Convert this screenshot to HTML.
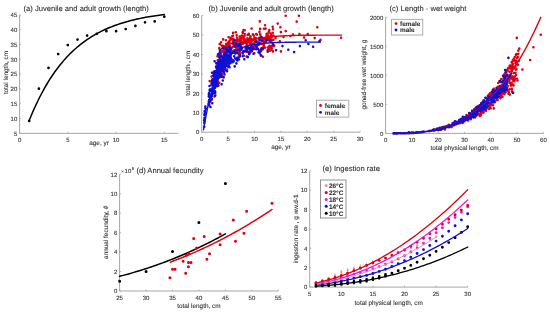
<!DOCTYPE html>
<html><head><meta charset="utf-8"><style>
html,body{margin:0;padding:0;background:#fff;width:550px;height:312px;overflow:hidden}
svg{display:block;will-change:transform}
text{font-family:"Liberation Sans",sans-serif;fill:#333333;stroke:#333333;stroke-width:0.1px;text-rendering:geometricPrecision}
</style></head><body>
<svg width="550" height="312" viewBox="0 0 550 312">
<rect width="550" height="312" fill="#fff"/>
<path d="M19.6 14.9V133.3H178.4" stroke="#a6a6a6" stroke-width="1" fill="none"/>
<path d="M19.6 133.3v-1.5M67.8 133.3v-1.5M116.1 133.3v-1.5M164.3 133.3v-1.5M19.6 133.3h1.5M19.6 118.5h1.5M19.6 103.7h1.5M19.6 88.9h1.5M19.6 74.1h1.5M19.6 59.3h1.5M19.6 44.5h1.5M19.6 29.7h1.5M19.6 14.9h1.5" stroke="#a6a6a6" stroke-width="0.8" fill="none"/>
<text x="19.6" y="141.9" font-size="6.0" text-anchor="middle">0</text>
<text x="67.8" y="141.9" font-size="6.0" text-anchor="middle">5</text>
<text x="116.1" y="141.9" font-size="6.0" text-anchor="middle">10</text>
<text x="164.3" y="141.9" font-size="6.0" text-anchor="middle">15</text>
<text x="17.3" y="135.5" font-size="6.0" text-anchor="end">5</text>
<text x="17.3" y="120.7" font-size="6.0" text-anchor="end">10</text>
<text x="17.3" y="105.9" font-size="6.0" text-anchor="end">15</text>
<text x="17.3" y="91.1" font-size="6.0" text-anchor="end">20</text>
<text x="17.3" y="76.3" font-size="6.0" text-anchor="end">25</text>
<text x="17.3" y="61.5" font-size="6.0" text-anchor="end">30</text>
<text x="17.3" y="46.7" font-size="6.0" text-anchor="end">35</text>
<text x="17.3" y="31.9" font-size="6.0" text-anchor="end">40</text>
<text x="17.3" y="17.1" font-size="6.0" text-anchor="end">45</text>
<text x="99" y="144.8" font-size="6.4" text-anchor="middle">age, yr</text>
<text transform="translate(7.8 72.7) rotate(-90)" x="0" y="0" font-size="6.4" text-anchor="middle">total length, cm</text>
<text x="23.5" y="10.5" font-size="7.6">(a) Juvenile and adult growth (length)</text>
<polyline points="29.25,120.34 30.96,116.17 32.67,112.15 34.38,108.29 36.09,104.57 37.80,100.99 39.51,97.54 41.22,94.23 42.93,91.03 44.63,87.96 46.34,85.00 48.05,82.16 49.76,79.42 51.47,76.78 53.18,74.24 54.89,71.80 56.60,69.45 58.31,67.18 60.02,65.01 61.73,62.91 63.44,60.89 65.15,58.95 66.86,57.08 68.57,55.28 70.28,53.55 71.99,51.88 73.70,50.28 75.41,48.73 77.12,47.25 78.83,45.82 80.54,44.44 82.25,43.11 83.96,41.84 85.67,40.61 87.38,39.43 89.09,38.29 90.80,37.20 92.51,36.14 94.22,35.13 95.93,34.15 97.64,33.21 99.35,32.31 101.06,31.44 102.77,30.60 104.47,29.79 106.18,29.02 107.89,28.27 109.60,27.55 111.31,26.86 113.02,26.19 114.73,25.55 116.44,24.93 118.15,24.34 119.86,23.77 121.57,23.22 123.28,22.69 124.99,22.18 126.70,21.69 128.41,21.21 130.12,20.76 131.83,20.32 133.54,19.90 135.25,19.50 136.96,19.10 138.67,18.73 140.38,18.37 142.09,18.02 143.80,17.69 145.51,17.36 147.22,17.05 148.93,16.75 150.64,16.47 152.35,16.19 154.06,15.92 155.77,15.67 157.48,15.42 159.19,15.18 160.90,14.96 162.60,14.74 164.31,14.52" stroke="#000" stroke-width="1.5" fill="none" stroke-linejoin="round" stroke-linecap="round"/>
<path d="M29.2 121.0h0M38.9 88.7h0M48.5 67.9h0M58.2 54.1h0M67.8 45.1h0M77.5 39.6h0M87.1 35.6h0M96.8 33.8h0M106.4 31.2h0M116.1 31.2h0M125.7 29.1h0M135.4 25.9h0M145.0 22.3h0M154.7 21.4h0M164.3 16.7h0" stroke="#000" stroke-width="2.7" stroke-linecap="round" fill="none"/>
<path d="M201.7 15.6V132.2H360.1" stroke="#a6a6a6" stroke-width="1" fill="none"/>
<path d="M201.7 132.2v-1.5M228.1 132.2v-1.5M254.5 132.2v-1.5M280.9 132.2v-1.5M307.3 132.2v-1.5M333.7 132.2v-1.5M360.1 132.2v-1.5M201.7 132.2h1.5M201.7 112.8h1.5M201.7 93.3h1.5M201.7 73.9h1.5M201.7 54.5h1.5M201.7 35h1.5M201.7 15.6h1.5" stroke="#a6a6a6" stroke-width="0.8" fill="none"/>
<text x="201.7" y="140.8" font-size="6.0" text-anchor="middle">0</text>
<text x="228.1" y="140.8" font-size="6.0" text-anchor="middle">5</text>
<text x="254.5" y="140.8" font-size="6.0" text-anchor="middle">10</text>
<text x="280.9" y="140.8" font-size="6.0" text-anchor="middle">15</text>
<text x="307.3" y="140.8" font-size="6.0" text-anchor="middle">20</text>
<text x="333.7" y="140.8" font-size="6.0" text-anchor="middle">25</text>
<text x="360.1" y="140.8" font-size="6.0" text-anchor="middle">30</text>
<text x="199.4" y="134.4" font-size="6.0" text-anchor="end">0</text>
<text x="199.4" y="115" font-size="6.0" text-anchor="end">10</text>
<text x="199.4" y="95.5" font-size="6.0" text-anchor="end">20</text>
<text x="199.4" y="76.1" font-size="6.0" text-anchor="end">30</text>
<text x="199.4" y="56.7" font-size="6.0" text-anchor="end">40</text>
<text x="199.4" y="37.2" font-size="6.0" text-anchor="end">50</text>
<text x="199.4" y="17.8" font-size="6.0" text-anchor="end">60</text>
<text x="280.9" y="148.9" font-size="6.4" text-anchor="middle">age, yr</text>
<text transform="translate(190.1 73.2) rotate(-90)" x="0" y="0" font-size="6.4" text-anchor="middle">total length , cm</text>
<text x="208.4" y="10.6" font-size="7.6">(b) Juvenile and adult growth (length)</text>
<path d="M215.2 76.6h0M217.7 60.4h0M216.6 67.7h0M211.6 76.6h0M212.3 83.7h0M217.5 56.2h0M209.7 81.1h0M217.0 63.1h0M216.8 65.6h0M213.8 71.5h0M235.6 43.8h0M234.2 50.2h0M232.9 42.0h0M243.5 30.1h0M246.8 43.3h0M249.6 42.5h0M274.3 45.7h0M263.0 38.1h0M253.4 48.4h0M273.9 46.1h0M230.6 37.9h0M227.6 52.2h0M252.9 34.4h0M221.1 42.3h0M220.6 50.3h0M247.4 38.3h0M244.7 30.3h0M269.9 40.8h0M253.8 44.4h0M247.4 49.8h0M246.4 41.5h0M232.4 36.0h0M219.3 48.0h0M229.4 51.7h0M257.3 45.7h0M229.8 48.9h0M239.3 41.1h0M218.8 56.5h0M265.1 38.6h0M227.2 45.1h0M233.6 46.3h0M267.9 40.0h0M247.1 40.4h0M266.0 40.3h0M254.4 37.8h0M260.1 28.9h0M223.7 46.0h0M248.9 41.1h0M247.0 51.9h0M267.4 37.4h0M238.8 54.7h0M252.1 49.5h0M221.9 45.7h0M240.3 38.5h0M236.7 44.2h0M227.0 57.4h0M264.3 42.2h0M239.8 46.9h0M273.4 35.6h0M251.6 28.5h0M252.5 39.7h0M254.3 45.5h0M256.5 47.6h0M227.0 47.4h0M243.2 43.3h0M232.0 52.0h0M241.1 41.9h0M224.0 56.3h0M272.8 32.8h0M230.6 39.2h0M256.2 34.1h0M235.4 46.7h0M267.5 36.7h0M255.7 41.5h0M226.0 50.2h0M265.9 41.9h0M271.5 47.4h0M269.2 48.4h0M250.5 36.4h0M226.7 48.5h0M229.4 44.7h0M270.5 33.6h0M249.5 51.8h0M228.7 51.0h0M268.1 38.7h0M254.5 38.4h0M250.5 43.5h0M239.7 36.6h0M241.6 41.2h0M232.0 52.4h0M220.7 57.3h0M267.6 34.9h0M244.8 39.2h0M249.2 52.8h0M236.6 35.2h0M260.6 36.6h0M220.0 44.2h0M239.4 45.2h0M220.3 53.8h0M225.5 55.0h0M272.7 26.8h0M255.4 41.8h0M242.6 32.8h0M247.9 45.5h0M267.4 38.8h0M237.9 53.1h0M251.6 43.4h0M256.9 34.6h0M238.5 50.5h0M247.6 35.1h0M261.4 38.1h0M269.5 45.9h0M227.1 50.1h0M270.8 42.3h0M218.9 55.3h0M260.7 43.4h0M264.0 44.9h0M226.3 49.5h0M242.0 48.6h0M264.2 47.7h0M219.4 53.7h0M253.8 35.5h0M263.0 49.2h0M247.3 41.6h0M259.2 44.2h0M231.3 51.2h0M229.7 40.8h0M238.9 46.0h0M228.6 37.3h0M238.0 47.8h0M271.7 37.2h0M250.7 42.6h0M237.6 47.7h0M233.8 40.9h0M271.9 40.4h0M243.5 38.6h0M273.5 39.7h0M247.4 48.2h0M247.8 42.2h0M268.8 39.4h0M260.2 34.4h0M251.1 46.6h0M242.5 42.6h0M267.7 50.1h0M241.6 38.6h0M270.2 46.1h0M222.4 61.4h0M242.7 42.7h0M247.7 34.9h0M271.8 48.7h0M232.6 51.4h0M263.7 44.4h0M256.5 47.4h0M258.7 38.1h0M253.8 45.7h0M273.0 43.8h0M237.2 39.7h0M240.9 47.2h0M230.0 43.2h0M221.4 57.1h0M230.5 52.9h0M269.8 50.7h0M265.6 28.6h0M224.9 50.6h0M252.4 39.5h0M245.4 42.1h0M251.9 40.1h0M255.5 40.4h0M235.8 32.2h0M272.4 45.7h0M244.7 51.4h0M253.7 47.0h0M254.1 48.9h0M228.9 41.7h0M222.1 45.8h0M241.6 48.3h0M261.4 48.5h0M264.2 42.1h0M259.5 31.9h0M224.9 64.2h0M269.7 36.5h0M263.5 46.5h0M267.7 33.5h0M247.9 48.1h0M269.8 41.3h0M221.2 60.5h0M220.3 57.9h0M219.7 44.1h0M232.7 39.8h0M232.5 47.3h0M229.1 51.4h0M250.3 52.6h0M220.8 54.1h0M251.6 41.3h0M227.9 47.1h0M256.5 41.1h0M219.8 59.2h0M236.0 44.0h0M271.1 39.8h0M248.7 33.7h0M264.0 28.7h0M255.4 41.5h0M252.8 45.6h0M229.3 46.4h0M250.7 44.8h0M220.8 56.1h0M263.5 40.3h0M272.3 45.8h0M266.4 36.2h0M221.4 51.8h0M237.6 41.6h0M236.4 44.5h0M224.9 53.0h0M253.7 46.6h0M263.2 41.4h0M236.2 46.8h0M266.9 38.4h0M263.2 40.0h0M225.8 56.2h0M261.5 39.7h0M268.0 47.8h0M229.6 49.6h0M250.7 43.0h0M254.3 53.3h0M252.7 40.4h0M224.0 48.4h0M255.6 41.6h0M254.0 43.4h0M264.7 42.2h0M263.6 45.8h0M236.9 44.9h0M259.0 43.7h0M267.1 39.2h0M268.6 46.9h0M227.6 45.3h0M220.1 51.3h0M255.0 41.6h0M230.6 48.2h0M250.1 37.9h0M271.5 49.6h0M239.8 40.0h0M232.7 43.3h0M244.1 40.4h0M255.4 38.4h0M224.3 53.1h0M239.9 44.3h0M226.1 44.0h0M255.7 38.1h0M265.1 38.6h0M239.7 51.9h0M239.4 39.6h0M248.8 34.4h0M230.6 39.5h0M232.4 43.5h0M237.1 52.6h0M244.2 36.4h0M223.2 50.8h0M260.7 55.4h0M251.0 38.9h0M235.4 52.8h0M222.9 57.9h0M261.3 43.9h0M225.9 40.2h0M226.1 50.0h0M225.9 46.3h0M223.1 39.4h0M269.3 30.0h0M233.7 45.1h0M235.7 45.1h0M265.2 47.5h0M239.2 47.1h0M227.8 44.1h0M234.3 41.8h0M246.2 41.2h0M232.7 38.8h0M241.6 47.2h0M225.4 48.6h0M242.0 38.0h0M243.3 38.7h0M244.6 35.6h0M240.6 40.3h0M232.6 46.7h0M224.5 46.8h0M236.5 49.4h0M242.8 52.2h0M227.9 43.1h0M229.8 46.2h0M237.0 41.4h0M242.6 52.6h0M246.5 44.0h0M226.1 51.4h0M227.7 51.9h0M243.9 55.8h0M239.8 44.8h0M241.9 37.1h0M249.1 39.1h0M247.6 45.2h0M245.1 42.1h0M243.3 37.7h0M233.2 60.2h0M239.7 43.5h0M227.7 43.4h0M242.9 38.2h0M242.8 32.1h0M241.9 35.6h0M234.6 42.2h0M232.8 42.9h0M233.9 39.6h0M223.7 52.8h0M245.1 42.2h0M237.1 37.7h0M233.1 32.9h0M237.3 44.1h0M241.9 42.8h0M232.9 43.5h0M244.7 34.0h0M247.1 41.9h0M233.0 35.8h0M226.5 53.3h0M242.9 43.4h0M285.7 15.8h0M298.9 15.8h0M296.7 21.6h0M277.7 23.6h0M280.4 27.3h0M317.3 27.3h0M280.9 32.1h0M285.7 31.1h0M293.0 34.5h0M299.4 34.1h0M307.8 34.1h0M314.7 38.1h0M304.1 37.6h0M283.5 37.0h0M279.8 41.3h0M273.0 51.4h0M280.9 51.4h0M262.9 56.8h0M268.8 31.7h0M266.6 34.1h0M269.8 38.9h0M341.1 37.8h0M271.4 35.0h0M275.6 37.9h0M290.4 36.0h0M320.5 39.9h0M265.1 25.3h0M259.8 21.4h0M273.0 29.2h0M213.4 91.0h0M211.9 99.5h0M221.2 75.3h0M217.9 79.1h0M210.3 101.8h0M222.2 73.7h0M214.5 96.5h0M223.3 76.8h0M218.4 85.7h0M219.2 82.9h0M217.9 81.3h0M221.6 76.1h0M226.9 69.5h0M223.6 71.9h0" stroke="#de0010" stroke-width="2.6" stroke-linecap="round" fill="none"/>
<polyline points="209.62,103.56 211.29,96.93 212.96,90.93 214.63,85.52 216.30,80.63 217.97,76.22 219.65,72.23 221.32,68.63 222.99,65.38 224.66,62.45 226.33,59.79 228.00,57.40 229.67,55.24 231.34,53.28 233.01,51.52 234.68,49.92 236.35,48.49 238.03,47.19 239.70,46.01 241.37,44.95 243.04,44.00 244.71,43.13 246.38,42.35 248.05,41.65 249.72,41.01 251.39,40.43 253.06,39.91 254.73,39.44 256.40,39.02 258.08,38.64 259.75,38.29 261.42,37.98 263.09,37.70 264.76,37.44 266.43,37.21 268.10,37.01 269.77,36.82 271.44,36.65 273.11,36.50 274.78,36.36 276.46,36.23 278.13,36.12 279.80,36.02 281.47,35.93 283.14,35.85 284.81,35.77 286.48,35.70 288.15,35.64 289.82,35.59 291.49,35.54 293.16,35.49 294.84,35.45 296.51,35.41 298.18,35.38 299.85,35.35 301.52,35.32 303.19,35.30 304.86,35.28 306.53,35.26 308.20,35.24 309.87,35.22 311.54,35.21 313.21,35.20 314.89,35.18 316.56,35.17 318.23,35.16 319.90,35.15 321.57,35.15 323.24,35.14 324.91,35.13 326.58,35.13 328.25,35.12 329.92,35.12 331.59,35.11 333.27,35.11 334.94,35.11 336.61,35.10 338.28,35.10 339.95,35.10 341.62,35.09" stroke="#de0010" stroke-width="1.4" fill="none" stroke-linejoin="round" stroke-linecap="round"/>
<path d="M204.1 120.5h0M205.9 108.8h0M205.4 106.6h0M204.5 117.9h0M205.4 112.9h0M204.6 121.3h0M204.9 113.8h0M205.7 113.2h0M204.9 113.1h0M204.6 117.9h0M204.6 111.3h0M204.2 126.7h0M204.5 119.5h0M204.6 114.7h0M209.2 99.9h0M208.8 103.7h0M210.3 95.8h0M209.4 105.3h0M211.3 90.1h0M212.0 72.8h0M209.6 90.0h0M210.7 99.7h0M210.4 99.0h0M208.8 101.4h0M209.0 93.0h0M211.8 94.2h0M210.3 98.3h0M211.5 84.4h0M208.8 94.6h0M210.8 94.9h0M211.8 96.3h0M211.8 99.0h0M208.6 103.8h0M210.5 107.0h0M209.9 91.0h0M211.4 94.5h0M208.8 96.6h0M209.5 86.0h0M211.6 82.5h0M210.3 101.1h0M210.2 89.2h0M212.1 80.4h0M209.7 100.5h0M208.7 104.8h0M219.5 70.6h0M215.1 91.2h0M213.8 73.3h0M222.8 80.5h0M229.9 63.2h0M223.0 66.0h0M224.2 63.7h0M218.2 70.5h0M222.8 62.7h0M226.2 61.1h0M223.1 56.6h0M227.1 71.3h0M222.4 65.1h0M215.9 82.7h0M223.0 63.3h0M221.3 65.3h0M215.3 85.6h0M223.7 67.2h0M227.4 54.6h0M214.8 78.1h0M222.3 69.9h0M225.8 47.9h0M219.7 52.6h0M217.3 85.0h0M219.1 68.1h0M222.3 48.5h0M224.9 56.3h0M222.6 63.4h0M214.2 83.5h0M227.4 62.1h0M229.3 58.9h0M214.1 86.2h0M216.9 69.1h0M215.5 81.5h0M228.0 61.1h0M229.1 64.3h0M213.1 85.6h0M218.4 78.3h0M215.8 79.0h0M220.9 60.2h0M229.3 55.8h0M213.6 80.5h0M215.4 76.2h0M221.3 66.6h0M221.9 66.8h0M226.0 61.7h0M220.3 63.0h0M214.9 88.0h0M218.8 60.9h0M230.4 56.8h0M226.1 64.2h0M214.4 85.0h0M227.2 63.0h0M218.0 71.0h0M226.7 63.6h0M212.5 79.4h0M228.4 62.6h0M215.3 95.6h0M220.7 73.1h0M224.5 74.4h0M221.6 66.7h0M215.3 71.4h0M214.8 75.8h0M217.5 83.4h0M213.2 89.9h0M216.3 63.2h0M214.7 78.6h0M220.8 67.6h0M218.8 62.9h0M223.1 48.0h0M217.5 63.1h0M212.9 84.8h0M218.4 68.9h0M226.2 56.2h0M217.0 79.1h0M219.7 77.1h0M226.2 59.5h0M219.8 76.3h0M228.7 58.5h0M229.2 57.3h0M218.0 54.2h0M225.9 65.1h0M216.9 75.5h0M214.8 81.6h0M220.4 65.3h0M223.4 56.8h0M229.5 60.2h0M215.0 85.9h0M225.4 70.3h0M221.0 73.8h0M214.7 77.0h0M230.2 56.9h0M225.1 67.0h0M214.6 83.6h0M229.0 57.8h0M214.2 78.7h0M214.0 86.9h0M218.4 73.5h0M229.6 67.2h0M212.9 93.4h0M229.2 49.2h0M223.6 77.4h0M213.5 86.4h0M222.8 63.1h0M220.7 70.5h0M222.7 70.1h0M225.9 60.4h0M224.8 61.4h0M230.7 57.3h0M215.2 93.0h0M227.3 59.9h0M219.9 75.4h0M226.7 62.6h0M228.7 56.9h0M230.6 53.5h0M217.2 67.0h0M220.6 71.5h0M229.7 52.6h0M229.7 51.2h0M219.2 61.9h0M229.6 50.2h0M219.8 70.4h0M219.2 71.6h0M226.2 55.0h0M221.0 77.0h0M220.5 66.7h0M219.4 73.9h0M220.3 71.2h0M214.8 92.8h0M213.4 90.4h0M226.2 59.9h0M222.7 58.8h0M224.7 55.4h0M227.1 59.7h0M216.5 77.2h0M216.6 81.8h0M217.4 70.2h0M217.9 74.3h0M226.3 56.2h0M219.2 57.3h0M218.2 72.1h0M224.0 72.1h0M215.7 84.3h0M214.2 92.2h0M225.1 68.1h0M226.2 52.1h0M217.7 70.9h0M224.0 72.2h0M212.9 81.4h0M219.7 60.2h0M222.9 66.7h0M216.9 79.7h0M218.7 73.6h0M223.5 61.5h0M223.2 59.8h0M215.1 71.2h0M225.3 53.2h0M213.7 75.3h0M230.2 50.0h0M216.0 72.3h0M216.9 86.2h0M216.0 78.3h0M230.6 55.3h0M217.6 75.9h0M223.4 57.6h0M230.6 58.8h0M229.8 62.3h0M213.0 75.7h0M221.9 61.5h0M223.4 62.2h0M225.2 55.0h0M218.5 63.4h0M218.3 69.1h0M212.3 103.3h0M212.9 90.2h0M222.4 68.2h0M213.7 90.3h0M216.0 75.7h0M218.4 62.5h0M213.6 87.2h0M212.8 93.4h0M229.4 46.9h0M220.3 71.8h0M216.0 86.2h0M225.4 59.0h0M212.4 84.2h0M216.8 80.4h0M230.0 53.1h0M228.8 60.7h0M224.0 68.5h0M214.0 81.5h0M218.1 66.1h0M212.8 90.3h0M216.3 73.9h0M212.7 86.8h0M214.6 61.2h0M224.0 67.2h0M214.1 72.8h0M215.1 79.9h0M228.9 58.7h0M218.5 66.0h0M218.4 64.8h0M213.9 74.4h0M227.0 57.4h0M224.8 65.1h0M222.4 68.8h0M223.7 59.9h0M214.1 78.4h0M217.1 63.5h0M223.0 61.4h0M229.9 51.8h0M227.4 50.5h0M224.1 61.4h0M221.8 76.2h0M212.5 94.5h0M228.7 65.9h0M213.5 73.3h0M214.6 86.9h0M225.1 53.4h0M227.3 55.8h0M226.8 49.6h0M220.6 60.9h0M215.5 79.2h0M212.9 87.0h0M228.0 58.2h0M230.3 56.2h0M216.8 79.1h0M228.3 58.6h0M219.7 57.7h0M218.0 85.2h0M221.6 64.7h0M212.4 93.0h0M220.4 67.0h0M215.9 71.1h0M225.4 60.7h0M221.5 61.2h0M228.3 67.0h0M228.8 52.1h0M218.1 76.6h0M217.4 68.4h0M229.6 56.6h0M221.6 84.3h0M214.0 87.8h0M213.1 83.7h0M230.6 48.8h0M223.0 62.4h0M213.3 83.0h0M221.7 76.0h0M221.6 56.6h0M220.3 55.6h0M229.8 57.2h0M229.8 58.6h0M214.6 92.5h0M215.1 73.4h0M219.8 49.7h0M227.7 54.9h0M223.8 54.9h0M225.7 56.9h0M222.9 70.9h0M216.1 66.9h0M227.4 65.9h0M212.5 88.2h0M225.2 59.1h0M215.9 71.1h0M221.0 64.5h0M230.3 55.1h0M222.2 70.6h0M213.3 93.3h0M220.2 68.3h0M224.5 66.3h0M232.5 62.2h0M238.7 57.3h0M231.3 58.9h0M247.8 57.1h0M242.8 56.3h0M246.7 56.5h0M240.1 50.4h0M251.5 47.2h0M236.2 43.6h0M259.5 53.2h0M261.2 49.9h0M246.4 46.2h0M245.5 51.0h0M258.0 48.8h0M239.9 43.7h0M256.2 49.2h0M239.8 56.4h0M253.5 53.7h0M241.3 49.6h0M249.8 48.0h0M260.1 52.6h0M232.5 60.7h0M256.3 45.8h0M247.9 47.3h0M242.7 53.4h0M241.8 48.2h0M232.9 52.5h0M238.9 59.5h0M250.5 50.3h0M233.8 52.7h0M251.9 51.1h0M261.2 55.5h0M261.8 48.3h0M258.9 44.5h0M256.3 41.7h0M236.4 63.4h0M261.5 37.0h0M237.2 57.8h0M258.3 43.7h0M258.6 42.6h0M250.4 45.2h0M247.3 49.2h0M237.1 58.0h0M247.2 47.2h0M239.9 54.4h0M234.7 66.4h0M234.8 40.3h0M256.1 45.1h0M260.0 40.3h0M235.2 58.2h0M231.2 48.9h0M239.1 44.3h0M235.0 46.4h0M236.7 52.9h0M249.2 54.2h0M244.1 51.1h0M244.3 59.3h0M237.3 60.4h0M251.8 48.4h0M239.9 55.7h0M243.4 51.2h0M245.4 50.6h0M259.4 39.9h0M238.5 45.7h0M253.5 48.6h0M240.5 45.9h0M259.1 50.4h0M243.2 52.0h0M246.7 46.2h0M258.5 52.3h0M252.1 49.9h0M233.7 61.4h0M235.1 53.4h0M262.1 40.8h0M231.7 60.1h0M240.3 50.2h0M261.1 50.7h0M231.2 62.4h0M235.9 59.3h0M237.5 45.6h0M233.5 43.2h0M245.7 48.1h0M249.5 52.2h0M240.8 48.0h0M234.2 56.2h0M256.4 44.7h0M256.2 46.7h0M248.5 48.4h0M235.1 51.0h0M247.9 52.0h0M204.3 122.9h0M204.6 120.5h0M204.9 117.6h0M204.3 114.7h0M205.1 110.8h0M205.4 107.9h0M282.5 46.1h0M288.3 49.8h0M294.1 52.1h0M299.9 46.1h0M305.7 40.3h0M308.4 44.0h0M313.1 46.7h0M276.1 50.2h0M267.7 51.7h0M266.6 40.3h0M269.8 40.3h0M319.4 41.3h0M273.0 44.8h0M262.4 48.6h0" stroke="#1010d2" stroke-width="2.6" stroke-linecap="round" fill="none"/>
<polyline points="203.55,129.72 204.73,122.69 205.91,116.22 207.09,110.27 208.27,104.80 209.45,99.77 210.64,95.14 211.82,90.88 213.00,86.97 214.18,83.37 215.36,80.05 216.54,77.01 217.72,74.20 218.91,71.62 220.09,69.25 221.27,67.07 222.45,65.06 223.63,63.22 224.81,61.52 225.99,59.96 227.17,58.52 228.36,57.20 229.54,55.99 230.72,54.87 231.90,53.84 233.08,52.90 234.26,52.03 235.44,51.23 236.63,50.49 237.81,49.81 238.99,49.19 240.17,48.62 241.35,48.09 242.53,47.61 243.71,47.16 244.89,46.75 246.08,46.37 247.26,46.03 248.44,45.71 249.62,45.41 250.80,45.14 251.98,44.90 253.16,44.67 254.35,44.46 255.53,44.26 256.71,44.09 257.89,43.92 259.07,43.77 260.25,43.63 261.43,43.51 262.61,43.39 263.80,43.28 264.98,43.18 266.16,43.09 267.34,43.01 268.52,42.93 269.70,42.86 270.88,42.80 272.07,42.74 273.25,42.68 274.43,42.63 275.61,42.58 276.79,42.54 277.97,42.50 279.15,42.47 280.33,42.43 281.52,42.40 282.70,42.37 283.88,42.35 285.06,42.32 286.24,42.30 287.42,42.28 288.60,42.26 289.79,42.25 290.97,42.23 292.15,42.21 293.33,42.20 294.51,42.19 295.69,42.18 296.87,42.17 298.05,42.16 299.24,42.15 300.42,42.14 301.60,42.13 302.78,42.13 303.96,42.12 305.14,42.11 306.32,42.11 307.51,42.10 308.69,42.10 309.87,42.10 311.05,42.09 312.23,42.09 313.41,42.09 314.59,42.08 315.77,42.08 316.96,42.08 318.14,42.08 319.32,42.07 320.50,42.07" stroke="#1010d2" stroke-width="1.4" fill="none" stroke-linejoin="round" stroke-linecap="round"/>
<rect x="316.4" y="100.2" width="32.4" height="16.9" fill="#fff" stroke="#999" stroke-width="0.8"/>
<circle cx="320.5" cy="105.5" r="1.4" fill="#de0010"/><circle cx="320.5" cy="112.3" r="1.4" fill="#1010d2"/>
<text x="324.8" y="107.7" font-size="6.4" font-weight="bold" fill="#000">female</text>
<text x="324.8" y="114.5" font-size="6.4" font-weight="bold" fill="#000">male</text>
<path d="M385.6 17.3V133.4H543.4" stroke="#a6a6a6" stroke-width="1" fill="none"/>
<path d="M385.6 133.4v-1.5M411.9 133.4v-1.5M438.2 133.4v-1.5M464.5 133.4v-1.5M490.8 133.4v-1.5M517.1 133.4v-1.5M543.4 133.4v-1.5M385.6 133.4h1.5M385.6 104.4h1.5M385.6 75.3h1.5M385.6 46.3h1.5M385.6 17.3h1.5" stroke="#a6a6a6" stroke-width="0.8" fill="none"/>
<text x="385.6" y="142" font-size="6.0" text-anchor="middle">0</text>
<text x="411.9" y="142" font-size="6.0" text-anchor="middle">10</text>
<text x="438.2" y="142" font-size="6.0" text-anchor="middle">20</text>
<text x="464.5" y="142" font-size="6.0" text-anchor="middle">30</text>
<text x="490.8" y="142" font-size="6.0" text-anchor="middle">40</text>
<text x="517.1" y="142" font-size="6.0" text-anchor="middle">50</text>
<text x="543.4" y="142" font-size="6.0" text-anchor="middle">60</text>
<text x="383.3" y="135.6" font-size="6.0" text-anchor="end">0</text>
<text x="383.3" y="106.6" font-size="6.0" text-anchor="end">500</text>
<text x="383.3" y="77.5" font-size="6.0" text-anchor="end">1000</text>
<text x="383.3" y="48.5" font-size="6.0" text-anchor="end">1500</text>
<text x="383.3" y="19.5" font-size="6.0" text-anchor="end">2000</text>
<text x="464.5" y="150" font-size="6.4" text-anchor="middle">total physical length, cm</text>
<text transform="translate(366.3 74.6) rotate(-90)" x="0" y="0" font-size="6.4" text-anchor="middle">gonad-free wet weight, g</text>
<text x="389.5" y="10.6" font-size="7.6">(c) Length - wet weight</text>
<path d="M429.1 131.2h0M434.2 129.5h0M431.1 130.8h0M429.4 130.9h0M442.3 127.5h0M434.4 130.0h0M437.0 128.8h0M438.0 129.2h0M470.6 119.0h0M448.6 124.9h0M441.3 128.9h0M456.6 123.7h0M444.9 129.5h0M439.0 128.3h0M474.5 110.2h0M462.9 118.3h0M454.5 122.4h0M443.6 126.8h0M468.2 117.4h0M459.2 120.1h0M445.1 128.2h0M477.0 112.7h0M475.7 108.2h0M474.8 111.6h0M470.8 119.3h0M459.2 121.3h0M450.1 126.1h0M463.9 121.5h0M444.2 127.3h0M462.5 121.3h0M440.8 129.8h0M438.7 129.9h0M466.4 115.1h0M451.7 127.1h0M465.7 118.1h0M469.0 115.0h0M471.2 113.4h0M462.5 122.9h0M471.6 116.1h0M464.2 119.2h0M474.8 110.0h0M473.6 115.9h0M439.9 129.7h0M448.8 125.0h0M453.5 122.7h0M448.1 126.0h0M445.2 128.0h0M472.7 113.1h0M439.2 129.0h0M445.4 126.5h0M468.2 120.4h0M447.0 126.7h0M448.4 126.6h0M476.4 115.6h0M468.3 116.6h0M455.9 123.5h0M443.6 128.3h0M448.8 125.8h0M517.5 80.5h0M508.8 79.3h0M475.6 110.8h0M504.9 81.4h0M489.7 94.2h0M505.5 92.4h0M486.0 110.8h0M478.4 109.4h0M473.3 112.5h0M486.0 98.0h0M512.0 67.8h0M513.4 80.7h0M503.8 78.1h0M506.8 88.4h0M481.3 113.7h0M488.7 95.0h0M513.8 68.2h0M517.8 56.9h0M492.8 94.1h0M508.1 68.5h0M515.4 66.2h0M518.3 50.6h0M486.0 108.8h0M502.5 96.7h0M490.3 93.1h0M493.8 88.9h0M493.6 93.5h0M485.2 103.7h0M473.3 113.5h0M507.7 86.1h0M504.4 74.2h0M511.1 68.8h0M479.4 107.4h0M483.3 104.7h0M499.8 81.6h0M515.5 63.4h0M494.1 91.3h0M481.6 112.4h0M499.8 86.2h0M516.5 54.0h0M512.3 78.9h0M513.8 73.1h0M491.3 93.6h0M484.5 100.5h0M512.5 67.0h0M508.7 92.0h0M511.6 69.7h0M490.4 106.1h0M485.6 108.3h0M483.4 103.7h0M512.5 76.6h0M514.7 61.1h0M489.3 94.3h0M512.6 64.9h0M489.9 96.2h0M493.0 102.5h0M498.5 95.9h0M482.6 111.4h0M484.7 107.7h0M484.7 110.1h0M484.4 108.5h0M496.1 95.5h0M477.0 114.8h0M508.3 91.0h0M480.4 113.9h0M492.8 94.8h0M501.9 87.1h0M478.7 105.7h0M491.2 92.6h0M498.3 94.1h0M497.7 87.5h0M513.5 85.5h0M508.5 67.8h0M478.0 106.0h0M510.7 78.2h0M497.7 99.8h0M503.6 82.3h0M479.8 115.9h0M494.1 100.9h0M504.6 77.6h0M509.1 77.7h0M509.5 82.3h0M482.4 102.6h0M510.7 85.4h0M498.6 89.4h0M503.2 89.9h0M511.6 82.8h0M491.1 96.6h0M514.7 80.1h0M512.9 60.3h0M509.6 83.0h0M489.9 93.7h0M496.7 100.3h0M480.4 106.2h0M507.3 90.4h0M513.4 84.8h0M479.8 108.6h0M506.7 75.3h0M504.3 94.1h0M474.1 109.3h0M514.6 78.5h0M494.4 95.1h0M484.8 103.3h0M473.8 111.6h0M508.4 93.6h0M487.9 95.9h0M496.0 90.4h0M481.4 109.8h0M500.3 96.5h0M490.7 108.2h0M509.5 89.3h0M503.1 81.6h0M505.6 85.8h0M483.9 110.7h0M475.3 114.4h0M512.9 60.4h0M515.5 72.8h0M502.0 91.8h0M514.8 57.0h0M504.9 79.8h0M500.3 89.2h0M491.7 102.2h0M488.8 109.0h0M494.9 102.3h0M482.6 109.1h0M492.1 99.7h0M495.8 92.1h0M473.8 111.7h0M490.5 98.6h0M485.5 103.5h0M501.6 95.1h0M509.8 94.6h0M500.7 92.8h0M502.9 93.3h0M500.6 93.7h0M484.2 107.0h0M489.7 106.9h0M511.2 85.4h0M515.9 69.6h0M480.7 108.1h0M472.9 116.3h0M516.6 61.6h0M512.0 76.5h0M500.4 96.4h0M510.0 76.7h0M499.7 81.1h0M514.0 78.1h0M483.6 100.5h0M492.8 90.1h0M503.3 76.0h0M482.3 110.7h0M505.3 72.9h0M484.5 104.9h0M505.1 85.8h0M509.4 80.1h0M491.9 94.8h0M518.0 64.8h0M501.4 89.4h0M507.2 69.9h0M473.3 116.2h0M477.6 114.6h0M505.1 76.4h0M515.8 60.5h0M501.3 79.1h0M514.4 81.2h0M475.1 108.6h0M513.4 67.0h0M512.8 60.6h0M501.3 96.9h0M492.2 97.0h0M504.8 86.2h0M483.6 112.6h0M503.1 91.5h0M504.3 74.3h0M497.2 96.0h0M484.4 108.8h0M472.5 111.6h0M481.4 103.4h0M510.8 65.6h0M482.2 110.7h0M475.8 112.5h0M483.7 100.9h0M496.3 98.1h0M499.4 95.7h0M512.8 64.1h0M511.7 62.4h0M517.0 78.8h0M513.1 92.7h0M493.1 105.2h0M478.9 113.7h0M516.4 69.4h0M482.9 103.8h0M501.0 89.7h0M484.6 108.5h0M510.0 75.7h0M481.6 111.7h0M491.8 99.0h0M482.5 109.8h0M512.0 62.0h0M500.9 82.1h0M501.4 94.1h0M486.9 108.0h0M480.5 110.5h0M511.8 88.9h0M507.6 86.6h0M506.2 88.2h0M518.3 53.8h0M498.1 94.8h0M480.6 111.8h0M500.4 98.3h0M485.6 109.7h0M496.0 94.7h0M493.5 98.2h0M498.3 83.0h0M514.8 76.6h0M509.7 66.5h0M491.5 97.4h0M510.0 77.2h0M512.0 91.4h0M508.0 90.4h0M497.8 86.8h0M513.8 58.8h0M495.0 94.0h0M477.3 108.2h0M484.9 107.0h0M502.7 89.5h0M489.8 104.1h0M491.9 92.3h0M490.9 97.5h0M481.2 109.2h0M476.7 112.8h0M474.6 111.1h0M503.3 83.1h0M487.3 107.0h0M493.4 89.4h0M515.4 66.4h0M501.2 88.3h0M509.7 65.8h0M507.5 70.5h0M516.3 69.0h0M475.5 110.5h0M490.1 105.9h0M516.1 75.0h0M493.8 108.4h0M516.0 54.8h0M480.9 115.3h0M475.2 110.2h0M513.6 80.1h0M491.3 104.4h0M495.8 95.8h0M518.9 60.7h0M509.5 71.8h0M519.3 48.6h0M511.8 70.9h0M509.8 68.3h0M509.7 83.0h0" stroke="#de0010" stroke-width="2.6" stroke-linecap="round" fill="none"/>
<path d="M403.5 133.3h0M411.7 132.8h0M395.3 133.4h0M400.0 133.3h0M404.8 133.2h0M409.5 133.0h0M408.8 133.0h0M410.7 133.0h0M396.0 133.4h0M397.8 133.4h0M400.8 133.3h0M400.2 133.3h0M411.4 132.9h0M417.0 132.5h0M409.7 133.1h0M394.3 133.4h0M400.5 133.3h0M412.5 132.8h0M415.4 132.7h0M407.6 133.1h0M401.7 133.3h0M401.9 133.3h0M408.5 133.1h0M413.9 132.8h0M401.6 133.3h0M398.0 133.3h0M393.6 133.4h0M396.7 133.4h0M413.6 132.9h0M408.3 133.0h0M416.9 132.5h0M395.1 133.4h0M402.2 133.3h0M412.3 132.9h0M409.1 133.0h0M395.1 133.4h0M403.0 133.3h0M408.6 133.1h0M409.8 133.0h0M404.2 133.2h0M397.9 133.4h0M416.4 132.6h0M404.5 133.2h0M410.5 133.0h0M406.1 133.2h0M418.4 132.5h0M420.9 132.2h0M418.2 132.5h0M420.2 132.3h0M420.3 132.3h0M423.7 131.6h0M422.2 131.9h0M422.9 131.9h0M458.7 122.2h0M433.6 129.6h0M436.2 129.6h0M458.4 122.4h0M449.8 125.6h0M446.8 126.7h0M441.4 127.8h0M450.1 125.8h0M439.9 127.9h0M460.0 122.4h0M458.9 121.3h0M443.1 128.5h0M433.7 129.7h0M461.0 121.4h0M442.4 128.2h0M453.7 123.6h0M460.0 120.1h0M458.1 123.5h0M460.2 121.8h0M448.4 127.2h0M459.5 121.6h0M447.5 126.7h0M441.3 128.7h0M448.1 126.9h0M443.5 128.1h0M457.2 123.6h0M459.2 121.4h0M437.4 128.9h0M438.1 130.0h0M445.0 127.5h0M447.6 126.9h0M463.1 119.4h0M462.7 121.3h0M463.5 120.0h0M456.0 124.3h0M454.3 123.5h0M441.5 128.4h0M444.7 127.6h0M433.0 130.3h0M459.2 122.2h0M441.7 129.1h0M435.4 129.7h0M442.9 127.9h0M443.1 128.1h0M455.8 122.6h0M433.1 130.0h0M440.2 129.2h0M461.2 121.8h0M459.9 119.8h0M452.8 123.5h0M450.6 126.1h0M440.0 129.3h0M460.6 122.0h0M456.9 123.4h0M449.1 127.1h0M438.0 129.3h0M439.8 129.4h0M444.9 128.1h0M443.4 127.4h0M434.9 130.2h0M445.8 127.2h0M447.1 126.4h0M442.0 127.9h0M445.1 127.6h0M443.4 127.9h0M444.8 127.9h0M452.5 123.4h0M448.6 125.8h0M439.2 129.5h0M458.0 122.5h0M449.1 125.6h0M447.4 126.4h0M455.5 121.9h0M456.7 121.7h0M459.7 122.2h0M458.5 122.3h0M454.1 125.2h0M455.7 123.3h0M437.9 129.3h0M455.0 121.2h0M441.0 128.5h0M441.1 129.4h0M436.7 129.8h0M445.5 127.2h0M433.6 130.6h0M453.7 125.0h0M456.6 123.5h0M457.4 122.4h0M437.0 129.6h0M453.2 125.2h0M500.0 86.1h0M461.0 121.7h0M468.6 117.6h0M472.3 116.7h0M481.7 109.3h0M467.6 116.5h0M485.5 108.3h0M476.0 112.1h0M491.1 96.7h0M485.1 105.6h0M492.6 96.7h0M471.2 117.0h0M493.6 91.8h0M495.0 91.0h0M494.4 94.9h0M462.6 122.2h0M505.3 87.5h0M487.3 99.8h0M472.5 111.2h0M480.4 108.0h0M484.4 101.9h0M484.4 106.7h0M471.3 115.5h0M472.1 114.6h0M476.9 110.4h0M497.2 97.8h0M480.5 106.3h0M461.1 119.4h0M481.2 110.4h0M469.0 118.5h0M459.8 121.3h0M506.8 84.0h0M473.5 117.5h0M485.4 102.2h0M476.7 111.2h0M461.8 121.2h0M503.1 75.7h0M504.8 83.0h0M468.3 118.1h0M479.6 109.0h0M477.4 112.9h0M467.4 118.6h0M491.4 97.5h0M497.3 94.5h0M496.2 95.3h0M492.1 92.3h0M460.1 120.6h0M470.4 114.4h0M484.3 104.0h0M493.4 95.0h0M478.0 107.2h0M481.1 108.1h0M500.1 81.2h0M460.4 122.4h0M472.3 114.9h0M473.3 116.1h0M507.5 81.6h0M470.3 115.0h0M461.5 119.0h0M479.5 110.7h0M490.8 99.3h0M466.7 118.5h0M500.1 92.1h0M468.8 118.4h0M493.5 96.4h0M467.1 120.0h0M502.1 86.4h0M469.0 116.6h0M494.8 97.4h0M500.0 93.2h0M471.6 117.1h0M463.8 117.1h0M487.8 105.8h0M483.5 101.9h0M482.6 105.4h0M497.3 93.9h0M481.8 110.1h0M483.4 103.4h0M482.9 102.0h0M481.4 109.9h0M479.0 110.3h0M467.1 116.2h0M473.6 113.0h0M472.1 110.9h0M471.3 116.1h0M497.3 90.4h0M464.8 120.6h0M469.2 113.0h0M484.9 106.7h0M474.4 116.7h0M470.9 115.6h0M477.4 111.2h0M483.7 100.7h0M492.0 99.1h0M506.5 81.3h0M500.7 86.1h0M480.2 105.0h0M481.2 108.1h0M479.5 107.0h0M470.9 114.6h0M505.5 83.9h0M462.6 120.2h0M469.2 116.4h0M491.4 101.4h0M487.9 98.5h0M472.8 116.4h0M504.8 78.0h0M479.2 107.4h0M488.3 102.1h0M463.7 120.6h0M502.6 87.3h0M464.3 118.8h0M478.4 108.5h0M502.3 85.4h0M505.2 78.3h0M503.2 87.9h0M499.5 89.1h0M470.6 118.0h0M460.8 120.3h0M481.2 107.6h0M462.3 120.9h0M506.0 76.4h0M459.6 121.0h0M475.1 117.3h0M469.1 116.5h0M459.9 123.1h0M483.5 103.3h0M462.9 116.7h0M503.0 87.9h0M492.7 97.2h0M477.2 111.5h0M500.2 87.8h0M498.0 89.2h0M475.1 110.0h0M500.5 92.7h0M504.5 76.5h0M489.4 103.3h0M476.4 111.1h0M503.1 80.5h0M505.1 79.8h0M476.1 113.6h0M463.4 120.6h0M501.5 89.5h0M491.6 98.7h0M470.5 113.7h0M486.8 106.4h0M474.2 112.3h0M504.0 81.8h0M475.9 110.9h0M468.8 116.0h0M461.3 119.1h0M475.9 111.1h0M507.4 75.9h0M469.9 115.2h0M481.5 103.2h0M506.5 89.5h0M459.6 120.3h0M473.6 114.1h0M499.2 91.4h0M463.9 120.7h0M504.4 91.7h0M499.8 91.1h0M466.2 119.2h0M488.1 100.5h0M486.3 107.3h0M493.0 92.1h0M474.2 112.7h0M477.9 111.0h0M471.0 116.5h0M473.4 115.1h0M467.8 118.9h0M503.2 87.8h0M502.4 86.5h0M476.8 111.7h0M493.0 101.5h0M483.1 107.0h0M472.9 115.6h0M476.2 111.5h0M506.2 72.3h0M475.9 110.8h0M487.4 103.4h0M505.2 89.9h0M473.7 115.9h0M498.6 97.0h0M464.8 118.1h0M494.9 97.7h0M498.5 90.9h0M500.0 91.8h0M506.7 80.7h0M493.8 91.3h0M506.8 84.1h0M472.8 114.8h0M484.6 107.1h0M469.7 114.8h0M463.3 121.1h0M480.6 110.9h0M494.3 100.2h0M497.1 97.6h0M460.1 121.0h0M505.1 70.1h0M471.3 116.8h0M473.5 112.0h0M499.7 88.7h0M502.7 90.6h0M495.1 95.9h0M475.4 112.8h0M481.8 109.1h0M499.8 81.3h0M476.6 114.9h0M498.4 89.8h0M497.3 91.3h0M482.0 108.6h0M502.9 85.3h0M477.9 108.6h0M495.7 93.7h0M490.4 98.5h0M475.4 111.1h0M485.1 109.5h0M488.7 96.8h0M485.4 97.8h0M464.6 117.9h0M507.5 74.9h0M506.3 87.8h0M461.1 121.2h0M505.2 86.6h0M485.1 106.1h0M465.4 117.4h0M499.2 93.4h0M480.3 109.0h0M493.9 102.0h0M499.5 90.6h0M485.4 104.1h0M461.7 121.5h0M499.3 93.0h0M493.0 90.4h0M503.5 90.1h0M472.4 116.2h0M497.4 95.2h0M501.7 82.1h0M476.5 107.0h0M479.2 108.8h0M475.5 113.6h0M459.5 122.2h0M470.5 113.9h0M475.4 114.1h0M464.5 117.2h0M496.5 88.0h0M480.0 108.8h0M486.9 101.2h0M473.1 112.6h0M476.8 108.1h0M495.9 97.6h0M482.1 104.3h0M488.3 102.8h0M479.8 110.7h0M486.3 103.3h0M502.9 86.8h0M472.3 116.2h0M484.5 109.0h0M492.7 100.4h0" stroke="#1010d2" stroke-width="2.6" stroke-linecap="round" fill="none"/>
<path d="M516.8 37.9h0M540.8 34.8h0M533.4 47.2h0M530.2 60.0h0M522.4 69.5h0M517.1 57.9h0" stroke="#de0010" stroke-width="2.6" stroke-linecap="round" fill="none"/>
<path d="M512.9 92.8h0M508.4 57.9h0" stroke="#1010d2" stroke-width="2.6" stroke-linecap="round" fill="none"/>
<polyline points="393.49,133.39 395.35,133.37 397.22,133.36 399.08,133.33 400.95,133.30 402.81,133.26 404.68,133.21 406.54,133.14 408.40,133.07 410.27,132.97 412.13,132.87 414.00,132.75 415.86,132.61 417.73,132.45 419.59,132.27 421.45,132.07 423.32,131.85 425.18,131.60 427.05,131.33 428.91,131.03 430.78,130.71 432.64,130.35 434.50,129.97 436.37,129.55 438.23,129.11 440.10,128.63 441.96,128.11 443.83,127.56 445.69,126.97 447.55,126.34 449.42,125.67 451.28,124.96 453.15,124.21 455.01,123.42 456.88,122.58 458.74,121.69 460.60,120.76 462.47,119.77 464.33,118.74 466.20,117.65 468.06,116.52 469.93,115.33 471.79,114.08 473.66,112.78 475.52,111.42 477.38,110.00 479.25,108.51 481.11,106.97 482.98,105.37 484.84,103.70 486.71,101.96 488.57,100.16 490.43,98.29 492.30,96.35 494.16,94.34 496.03,92.26 497.89,90.11 499.76,87.88 501.62,85.57 503.48,83.19 505.35,80.73 507.21,78.19 509.08,75.56 510.94,72.86 512.81,70.07 514.67,67.20 516.53,64.24 518.40,61.19 520.26,58.05 522.13,54.82 523.99,51.51 525.86,48.09 527.72,44.59 529.58,40.99 531.45,37.29 533.31,33.49 535.18,29.60 537.04,25.60 538.91,21.50 540.77,17.30" stroke="#de0010" stroke-width="1.4" fill="none" stroke-linejoin="round" stroke-linecap="round"/>
<polyline points="393.49,133.39 394.99,133.38 396.49,133.37 397.98,133.35 399.48,133.33 400.98,133.30 402.48,133.27 403.98,133.23 405.47,133.19 406.97,133.13 408.47,133.07 409.97,133.00 411.47,132.92 412.97,132.83 414.46,132.73 415.96,132.62 417.46,132.50 418.96,132.36 420.46,132.22 421.95,132.05 423.45,131.88 424.95,131.69 426.45,131.48 427.95,131.25 429.44,131.02 430.94,130.76 432.44,130.48 433.94,130.19 435.44,129.87 436.93,129.54 438.43,129.19 439.93,128.81 441.43,128.42 442.93,128.00 444.43,127.55 445.92,127.09 447.42,126.60 448.92,126.08 450.42,125.54 451.92,124.97 453.41,124.38 454.91,123.76 456.41,123.11 457.91,122.43 459.41,121.72 460.90,120.99 462.40,120.22 463.90,119.42 465.40,118.58 466.90,117.72 468.40,116.82 469.89,115.89 471.39,114.92 472.89,113.92 474.39,112.88 475.89,111.81 477.38,110.70 478.88,109.55 480.38,108.36 481.88,107.13 483.38,105.87 484.87,104.56 486.37,103.21 487.87,101.82 489.37,100.39 490.87,98.92 492.36,97.40 493.86,95.83 495.36,94.23 496.86,92.57 498.36,90.87 499.86,89.12 501.35,87.33 502.85,85.49 504.35,83.60 505.85,81.65 507.35,79.66 508.84,77.62 510.34,75.53 511.84,73.38" stroke="#1010d2" stroke-width="1.4" fill="none" stroke-linejoin="round" stroke-linecap="round"/>
<rect x="391.4" y="19.3" width="31.4" height="15.7" fill="#fff" stroke="#999" stroke-width="0.8"/>
<circle cx="396" cy="23.6" r="1.4" fill="#de0010"/><circle cx="396" cy="30" r="1.4" fill="#1010d2"/>
<text x="400.1" y="25.8" font-size="6.4" font-weight="bold" fill="#000">female</text>
<text x="400.1" y="32.2" font-size="6.4" font-weight="bold" fill="#000">male</text>
<path d="M119.6 174.3V291H278.3" stroke="#a6a6a6" stroke-width="1" fill="none"/>
<path d="M119.6 291v-1.5M146.1 291v-1.5M172.5 291v-1.5M198.9 291v-1.5M225.4 291v-1.5M251.9 291v-1.5M278.3 291v-1.5M119.6 291h1.5M119.6 271.6h1.5M119.6 252.1h1.5M119.6 232.7h1.5M119.6 213.2h1.5M119.6 193.8h1.5M119.6 174.3h1.5" stroke="#a6a6a6" stroke-width="0.8" fill="none"/>
<text x="119.6" y="299.6" font-size="6.0" text-anchor="middle">25</text>
<text x="146.1" y="299.6" font-size="6.0" text-anchor="middle">30</text>
<text x="172.5" y="299.6" font-size="6.0" text-anchor="middle">35</text>
<text x="198.9" y="299.6" font-size="6.0" text-anchor="middle">40</text>
<text x="225.4" y="299.6" font-size="6.0" text-anchor="middle">45</text>
<text x="251.9" y="299.6" font-size="6.0" text-anchor="middle">50</text>
<text x="278.3" y="299.6" font-size="6.0" text-anchor="middle">55</text>
<text x="117.3" y="293.2" font-size="6.0" text-anchor="end">0</text>
<text x="117.3" y="273.8" font-size="6.0" text-anchor="end">2</text>
<text x="117.3" y="254.3" font-size="6.0" text-anchor="end">4</text>
<text x="117.3" y="234.8" font-size="6.0" text-anchor="end">6</text>
<text x="117.3" y="215.4" font-size="6.0" text-anchor="end">8</text>
<text x="117.3" y="195.9" font-size="6.0" text-anchor="end">10</text>
<text x="117.3" y="176.5" font-size="6.0" text-anchor="end">12</text>
<text x="198.9" y="308" font-size="6.4" text-anchor="middle">total length, cm</text>
<text transform="translate(107.6 232.3) rotate(-90)" x="0" y="0" font-size="6.4" text-anchor="middle">annual fecundity, #</text>
<text x="121.2" y="172.8" font-size="4.6">×</text><text x="124.6" y="173" font-size="6">10</text><text x="131.7" y="169.9" font-size="4.2">5</text>
<text x="136.4" y="172.6" font-size="7.6">(d) Annual fecundity</text>
<polyline points="119.60,276.32 121.39,275.85 123.19,275.38 124.98,274.90 126.77,274.41 128.57,273.91 130.36,273.41 132.15,272.89 133.95,272.37 135.74,271.84 137.53,271.30 139.33,270.75 141.12,270.20 142.91,269.63 144.71,269.06 146.50,268.48 148.29,267.89 150.08,267.29 151.88,266.68 153.67,266.06 155.46,265.44 157.26,264.80 159.05,264.16 160.84,263.51 162.64,262.85 164.43,262.18 166.22,261.50 168.02,260.81 169.81,260.12 171.60,259.41 173.40,258.70 175.19,257.97 176.98,257.24 178.78,256.50 180.57,255.75 182.36,254.98 184.16,254.22 185.95,253.44 187.74,252.65 189.54,251.85 191.33,251.04 193.12,250.23 194.92,249.40 196.71,248.57 198.50,247.72 200.29,246.87 202.09,246.01 203.88,245.13 205.67,244.25 207.47,243.36 209.26,242.46 211.05,241.55 212.85,240.63 214.64,239.70 216.43,238.76 218.23,237.81 220.02,236.85 221.81,235.88 223.61,234.90 225.40,233.91" stroke="#000" stroke-width="1.5" fill="none" stroke-linejoin="round" stroke-linecap="round"/>
<path d="M169.9 277.8h0M172.5 269.3h0M175.1 269.3h0M185.7 273.3h0M183.1 261.3h0M188.4 262.6h0M191.0 262.6h0M188.4 266.7h0M186.3 255.3h0M188.9 253.7h0M193.7 238.5h0M204.2 236.4h0M196.6 248.1h0M209.5 253.7h0M206.9 259.3h0M220.1 233.9h0M220.1 244.7h0M235.5 241.3h0M243.9 233.2h0M272.0 203.2h0M246.6 211.3h0M233.3 220.0h0" stroke="#de0010" stroke-width="3.0" stroke-linecap="round" fill="none"/>
<polyline points="170.38,262.12 172.11,261.47 173.83,260.82 175.55,260.16 177.27,259.50 178.99,258.82 180.71,258.14 182.43,257.45 184.16,256.75 185.88,256.04 187.60,255.32 189.32,254.60 191.04,253.86 192.76,253.12 194.48,252.37 196.21,251.61 197.93,250.85 199.65,250.07 201.37,249.29 203.09,248.49 204.81,247.69 206.54,246.88 208.26,246.06 209.98,245.24 211.70,244.40 213.42,243.56 215.14,242.70 216.86,241.84 218.59,240.97 220.31,240.09 222.03,239.20 223.75,238.31 225.47,237.40 227.19,236.48 228.91,235.56 230.64,234.63 232.36,233.68 234.08,232.73 235.80,231.77 237.52,230.81 239.24,229.83 240.97,228.84 242.69,227.84 244.41,226.84 246.13,225.82 247.85,224.80 249.57,223.77 251.29,222.73 253.02,221.68 254.74,220.62 256.46,219.55 258.18,218.47 259.90,217.38 261.62,216.28 263.34,215.17 265.07,214.06 266.79,212.93 268.51,211.80 270.23,210.65 271.95,209.50" stroke="#de0010" stroke-width="1.5" fill="none" stroke-linejoin="round" stroke-linecap="round"/>
<path d="M119.6 281.3h0M146.1 271.6h0M172.5 251.6h0M198.9 222.4h0M225.4 183.5h0" stroke="#000" stroke-width="3.0" stroke-linecap="round" fill="none"/>
<path d="M309.7 170.8V287.1H467.7" stroke="#a6a6a6" stroke-width="1" fill="none"/>
<path d="M309.7 287.1v-1.5M341.3 287.1v-1.5M372.9 287.1v-1.5M404.5 287.1v-1.5M436.1 287.1v-1.5M467.7 287.1v-1.5M309.7 287.1h1.5M309.7 267.7h1.5M309.7 248.3h1.5M309.7 229h1.5M309.7 209.6h1.5M309.7 190.2h1.5M309.7 170.8h1.5" stroke="#a6a6a6" stroke-width="0.8" fill="none"/>
<text x="309.7" y="295.7" font-size="6.0" text-anchor="middle">5</text>
<text x="341.3" y="295.7" font-size="6.0" text-anchor="middle">10</text>
<text x="372.9" y="295.7" font-size="6.0" text-anchor="middle">15</text>
<text x="404.5" y="295.7" font-size="6.0" text-anchor="middle">20</text>
<text x="436.1" y="295.7" font-size="6.0" text-anchor="middle">25</text>
<text x="467.7" y="295.7" font-size="6.0" text-anchor="middle">30</text>
<text x="307.4" y="289.3" font-size="6.0" text-anchor="end">0</text>
<text x="307.4" y="269.9" font-size="6.0" text-anchor="end">2</text>
<text x="307.4" y="250.5" font-size="6.0" text-anchor="end">4</text>
<text x="307.4" y="231.2" font-size="6.0" text-anchor="end">6</text>
<text x="307.4" y="211.8" font-size="6.0" text-anchor="end">8</text>
<text x="307.4" y="192.4" font-size="6.0" text-anchor="end">10</text>
<text x="307.4" y="173" font-size="6.0" text-anchor="end">12</text>
<text x="388.7" y="304.5" font-size="6.4" text-anchor="middle">total physical length, cm</text>
<text transform="translate(298 228.9) rotate(-90)" x="0" y="0" font-size="6.4" text-anchor="middle">ingestion rate , g ww.d-1</text>
<text x="322.5" y="171.3" font-size="7.6">(e) Ingestion rate</text>
<path d="M316.0 280.9V285.2M322.3 278.9V283.2M328.7 276.5V280.7M335.0 273.5V277.8M341.3 269.9V274.2M347.6 268.2V272.4M353.9 266.4V270.6M360.3 264.5V268.8M366.6 262.7V266.9M372.9 260.4V264.6" stroke="#f29090" stroke-width="0.8" fill="none"/>
<path d="M316.0 283.0h0M322.3 281.1h0M328.7 278.6h0M335.0 275.6h0M341.3 272.1h0M347.6 270.3h0M353.9 268.5h0M360.3 266.7h0M366.6 264.8h0M372.9 262.5h0M379.2 260.1h0M385.5 257.6h0M391.9 255.1h0M398.2 252.8h0M404.5 250.3h0M410.8 247.9h0M417.1 245.4h0M423.5 242.6h0M429.8 239.7h0M436.1 236.7h0" stroke="#f29090" stroke-width="2.3" stroke-linecap="round" fill="none"/>
<path d="M316.0 286.2h0M322.3 285.8h0M328.7 285.2h0M335.0 284.5h0M341.3 283.7h0M347.6 283.0h0M353.9 282.2h0M360.3 281.3h0M366.6 280.4h0M372.9 279.0h0M379.2 277.4h0M385.5 275.4h0M391.9 273.1h0M398.2 270.8h0M404.5 268.3h0M410.8 265.4h0M417.1 262.2h0M423.5 258.7h0M429.8 255.2h0M436.1 251.4h0M442.4 247.3h0M448.7 242.6h0M455.1 237.7h0M461.4 232.4h0M467.7 226.7h0" stroke="#000" stroke-width="2.9" stroke-linecap="round" fill="none"/>
<path d="M316.0 284.8h0M322.3 283.9h0M328.7 282.9h0M335.0 281.8h0M341.3 280.5h0M347.6 279.3h0M353.9 278.1h0M360.3 276.8h0M366.6 275.4h0M372.9 273.5h0M379.2 271.4h0M385.5 269.2h0M391.9 266.5h0M398.2 263.7h0M404.5 260.6h0M410.8 257.2h0M417.1 253.5h0M423.5 249.6h0M429.8 245.5h0M436.1 241.1h0M442.4 236.3h0M448.7 231.2h0M455.1 225.7h0M461.4 219.9h0M467.7 213.7h0" stroke="#1010d2" stroke-width="2.9" stroke-linecap="round" fill="none"/>
<path d="M316.0 283.6h0M322.3 282.4h0M328.7 280.9h0M335.0 279.2h0M341.3 277.4h0M347.6 275.8h0M353.9 274.2h0M360.3 272.5h0M366.6 270.7h0M372.9 268.8h0M379.2 266.6h0M385.5 264.3h0M391.9 261.9h0M398.2 258.9h0M404.5 255.8h0M410.8 252.0h0M417.1 247.9h0M423.5 243.5h0M429.8 238.3h0M436.1 232.7h0M442.4 227.8h0M448.7 222.6h0M455.1 217.5h0M461.4 212.3h0M467.7 206.9h0" stroke="#e619e6" stroke-width="2.9" stroke-linecap="round" fill="none"/>
<path d="M316.0 282.7h0M322.3 281.0h0M328.7 279.3h0M335.0 277.4h0M341.3 275.5h0M347.6 273.2h0M353.9 270.8h0M360.3 268.2h0M366.6 265.4h0M372.9 263.0h0M379.2 260.6h0M385.5 258.1h0M391.9 255.5h0M398.2 252.8h0M404.5 250.0h0M410.8 246.2h0M417.1 242.3h0M423.5 238.2h0M429.8 233.7h0M436.1 229.0h0M442.4 224.2h0M448.7 219.3h0M455.1 214.8h0M461.4 210.1h0M467.7 205.4h0" stroke="#de0010" stroke-width="2.9" stroke-linecap="round" fill="none"/>
<polyline points="316.02,286.17 317.94,286.06 319.86,285.94 321.78,285.81 323.70,285.67 325.62,285.53 327.54,285.38 329.46,285.22 331.38,285.05 333.30,284.87 335.22,284.68 337.14,284.49 339.06,284.29 340.98,284.07 342.90,283.85 344.82,283.62 346.74,283.39 348.66,283.14 350.58,282.88 352.50,282.62 354.42,282.34 356.34,282.06 358.26,281.76 360.18,281.46 362.10,281.14 364.02,280.82 365.94,280.49 367.86,280.14 369.78,279.79 371.70,279.43 373.62,279.05 375.54,278.67 377.46,278.28 379.38,277.87 381.30,277.46 383.22,277.03 385.14,276.60 387.06,276.15 388.98,275.69 390.90,275.23 392.82,274.75 394.74,274.26 396.66,273.76 398.58,273.25 400.50,272.72 402.42,272.19 404.34,271.65 406.26,271.09 408.18,270.52 410.10,269.95 412.02,269.36 413.94,268.76 415.86,268.14 417.78,267.52 419.70,266.88 421.62,266.24 423.54,265.58 425.46,264.91 427.38,264.22 429.30,263.53 431.22,262.82 433.14,262.11 435.06,261.38 436.98,260.63 438.90,259.88 440.82,259.11 442.74,258.33 444.66,257.54 446.58,256.74 448.50,255.92 450.42,255.09 452.34,254.25 454.26,253.40 456.18,252.53 458.10,251.66 460.02,250.76 461.94,249.86 463.86,248.94 465.78,248.02 467.70,247.07" stroke="#000" stroke-width="1.3" fill="none" stroke-linejoin="round" stroke-linecap="round"/>
<polyline points="316.02,285.10 317.94,284.89 319.86,284.65 321.78,284.41 323.70,284.16 325.62,283.89 327.54,283.61 329.46,283.32 331.38,283.02 333.30,282.71 335.22,282.38 337.14,282.04 339.06,281.69 340.98,281.32 342.90,280.95 344.82,280.56 346.74,280.16 348.66,279.74 350.58,279.32 352.50,278.88 354.42,278.43 356.34,277.96 358.26,277.48 360.18,276.99 362.10,276.49 364.02,275.98 365.94,275.45 367.86,274.91 369.78,274.35 371.70,273.78 373.62,273.20 375.54,272.61 377.46,272.00 379.38,271.39 381.30,270.75 383.22,270.11 385.14,269.45 387.06,268.78 388.98,268.09 390.90,267.40 392.82,266.69 394.74,265.96 396.66,265.22 398.58,264.47 400.50,263.71 402.42,262.93 404.34,262.14 406.26,261.34 408.18,260.52 410.10,259.69 412.02,258.85 413.94,257.99 415.86,257.12 417.78,256.23 419.70,255.34 421.62,254.43 423.54,253.50 425.46,252.56 427.38,251.61 429.30,250.65 431.22,249.67 433.14,248.67 435.06,247.67 436.98,246.65 438.90,245.61 440.82,244.57 442.74,243.51 444.66,242.43 446.58,241.34 448.50,240.24 450.42,239.13 452.34,238.00 454.26,236.85 456.18,235.70 458.10,234.53 460.02,233.34 461.94,232.14 463.86,230.93 465.78,229.71 467.70,228.47" stroke="#1010d2" stroke-width="1.3" fill="none" stroke-linejoin="round" stroke-linecap="round"/>
<polyline points="316.02,283.98 317.94,283.65 319.86,283.29 321.78,282.92 323.70,282.53 325.62,282.13 327.54,281.70 329.46,281.26 331.38,280.80 333.30,280.32 335.22,279.82 337.14,279.31 339.06,278.77 340.98,278.22 342.90,277.65 344.82,277.06 346.74,276.45 348.66,275.83 350.58,275.18 352.50,274.52 354.42,273.84 356.34,273.14 358.26,272.42 360.18,271.68 362.10,270.93 364.02,270.15 365.94,269.36 367.86,268.55 369.78,267.72 371.70,266.87 373.62,266.00 375.54,265.11 377.46,264.20 379.38,263.28 381.30,262.34 383.22,261.37 385.14,260.39 387.06,259.39 388.98,258.37 390.90,257.33 392.82,256.27 394.74,255.19 396.66,254.10 398.58,252.98 400.50,251.84 402.42,250.69 404.34,249.52 406.26,248.32 408.18,247.11 410.10,245.88 412.02,244.63 413.94,243.36 415.86,242.07 417.78,240.76 419.70,239.43 421.62,238.09 423.54,236.72 425.46,235.33 427.38,233.93 429.30,232.50 431.22,231.06 433.14,229.59 435.06,228.11 436.98,226.60 438.90,225.08 440.82,223.54 442.74,221.98 444.66,220.39 446.58,218.79 448.50,217.17 450.42,215.53 452.34,213.87 454.26,212.19 456.18,210.49 458.10,208.77 460.02,207.03 461.94,205.27 463.86,203.49 465.78,201.69 467.70,199.88" stroke="#e619e6" stroke-width="1.3" fill="none" stroke-linejoin="round" stroke-linecap="round"/>
<polyline points="316.02,283.01 317.94,282.59 319.86,282.16 321.78,281.70 323.70,281.22 325.62,280.72 327.54,280.20 329.46,279.67 331.38,279.11 333.30,278.53 335.22,277.94 337.14,277.32 339.06,276.68 340.98,276.03 342.90,275.35 344.82,274.65 346.74,273.94 348.66,273.20 350.58,272.45 352.50,271.68 354.42,270.88 356.34,270.07 358.26,269.23 360.18,268.38 362.10,267.51 364.02,266.62 365.94,265.71 367.86,264.77 369.78,263.82 371.70,262.85 373.62,261.86 375.54,260.86 377.46,259.83 379.38,258.78 381.30,257.71 383.22,256.63 385.14,255.52 387.06,254.39 388.98,253.25 390.90,252.08 392.82,250.90 394.74,249.70 396.66,248.47 398.58,247.23 400.50,245.97 402.42,244.69 404.34,243.39 406.26,242.07 408.18,240.73 410.10,239.37 412.02,238.00 413.94,236.60 415.86,235.18 417.78,233.75 419.70,232.30 421.62,230.82 423.54,229.33 425.46,227.82 427.38,226.29 429.30,224.74 431.22,223.17 433.14,221.58 435.06,219.97 436.98,218.34 438.90,216.69 440.82,215.03 442.74,213.34 444.66,211.64 446.58,209.92 448.50,208.17 450.42,206.41 452.34,204.63 454.26,202.83 456.18,201.01 458.10,199.18 460.02,197.32 461.94,195.44 463.86,193.55 465.78,191.63 467.70,189.70" stroke="#de0010" stroke-width="1.3" fill="none" stroke-linejoin="round" stroke-linecap="round"/>
<polyline points="316.02,284.42 318.06,284.11 320.09,283.79 322.13,283.46 324.16,283.10 326.20,282.73 328.23,282.35 330.27,281.94 332.30,281.52 334.34,281.08 336.37,280.63 338.41,280.16 340.44,279.67 342.48,279.16 344.51,278.64 346.55,278.10 348.58,277.54 350.62,276.97 352.65,276.38 354.69,275.77 356.73,275.14 358.76,274.50 360.80,273.84 362.83,273.16 364.87,272.46 366.90,271.75 368.94,271.02 370.97,270.27 373.01,269.51 375.04,268.73 377.08,267.93 379.11,267.11 381.15,266.28 383.18,265.43 385.22,264.56 387.25,263.67 389.29,262.77 391.32,261.84 393.36,260.90 395.39,259.95 397.43,258.97 399.47,257.98 401.50,256.97 403.54,255.94 405.57,254.90 407.61,253.83 409.64,252.75 411.68,251.66 413.71,250.54 415.75,249.41 417.78,248.25 419.82,247.09 421.85,245.90 423.89,244.69 425.92,243.47 427.96,242.23 429.99,240.97 432.03,239.70 434.06,238.40 436.10,237.09" stroke="#f29090" stroke-width="1.0" fill="none" stroke-linejoin="round" stroke-linecap="round"/>
<path d="M316.0 283.8V286.9M322.3 283.4V286.9M328.7 282.8V286.9M335.0 282.1V286.7M341.3 281.3V285.8M347.6 280.6V285.1M353.9 279.8V284.3M360.3 278.9V283.5M366.6 278.0V282.5M372.9 276.6V281.1M379.2 275.0V279.5M385.5 273.0V277.5" stroke="#000" stroke-width="2.0" fill="none"/>
<rect x="320.5" y="180" width="25.5" height="38" fill="#fff" stroke="#777" stroke-width="0.8"/>
<circle cx="326.2" cy="185.5" r="1.5" fill="#f29090"/>
<text x="329" y="187.7" font-size="6.4" font-weight="bold" fill="#000">26°C</text>
<circle cx="326.2" cy="192.4" r="1.5" fill="#de0010"/>
<text x="329" y="194.6" font-size="6.4" font-weight="bold" fill="#000">22°C</text>
<circle cx="326.2" cy="199.4" r="1.5" fill="#e619e6"/>
<text x="329" y="201.6" font-size="6.4" font-weight="bold" fill="#000">18°C</text>
<circle cx="326.2" cy="206.3" r="1.5" fill="#1010d2"/>
<text x="329" y="208.5" font-size="6.4" font-weight="bold" fill="#000">14°C</text>
<circle cx="326.2" cy="213.3" r="1.5" fill="#000"/>
<text x="329" y="215.5" font-size="6.4" font-weight="bold" fill="#000">10°C</text>
</svg></body></html>
